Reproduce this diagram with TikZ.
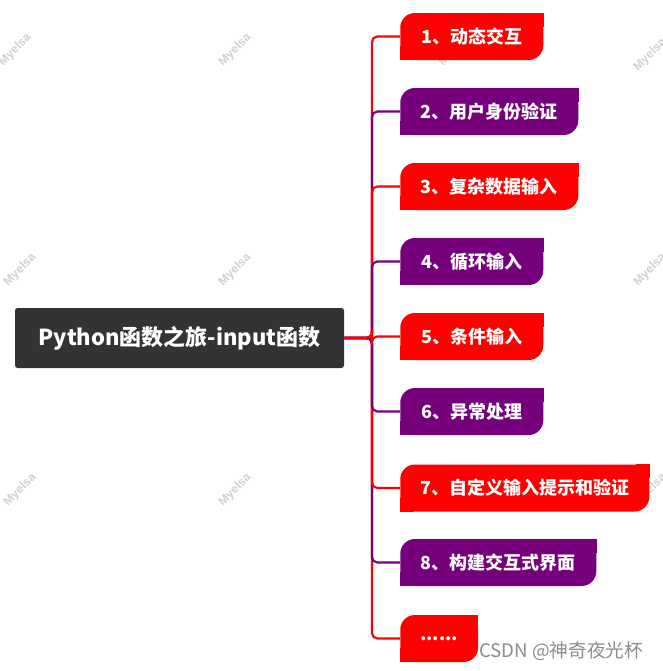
\documentclass[tikz,border=0pt]{standalone}
\usepackage{fontspec}
\setmainfont{Noto Sans CJK SC}
\newfontfamily\wmfont{Liberation Sans}
\def\mysixdots{......}
\begin{document}
\begin{tikzpicture}[x=0.75pt,y=-0.75pt,
  br/.style={fill=#1,rounded corners=11pt,minimum height=35.25pt,anchor=west,inner xsep=15pt,align=left,
    text=white,font=\fontsize{13.5}{15}\selectfont\bfseries},
  ln/.style={draw=#1,line width=1.6pt,rounded corners=4pt},
  wm/.style={text=black!18,rotate=45,font=\wmfont\fontsize{9}{10}\selectfont\bfseries}]
\useasboundingbox (0,0) rectangle (662,671);
\fill[white] (0,0) rectangle (662,671);
\colorlet{rd}{red}
\definecolor{pu}{RGB}{118,0,124}
\foreach \x/\y in {15/50,235/50,455/50,650/55,20/270,235/270,455/265,650/270,20/490,235/490,455/490,650/490}
  \node[wm] at (\x,\y) {Myelsa};
\node[fill=black!80,rounded corners=2pt,minimum width=246.75pt,minimum height=45pt,text=white,
  font=\fontsize{16.5}{18}\selectfont\bfseries] (root) at (179.5,338) {Python函数之旅-input函数};
\coordinate (j) at (372,338);
\foreach \n/\y/\w/\c/\t in {1/36.5/143/rd/1、动态交互, 2/111.5/178/pu/2、用户身份验证, 3/186.5/178/rd/3、复杂数据输入,
  4/261.5/143/pu/4、循环输入, 5/336.5/143/rd/5、条件输入, 6/411.5/143/pu/6、异常处理,
  7/488/249/rd/7、自定义输入提示和验证, 8/562.5/196/pu/8、构建交互式界面, 9/638.5/71/rd/\mysixdots}{
  \node[br=\c,minimum width=\w*0.75pt] (b\n) at (400,\y) {\t};
  \fill[\c] (b\n.north east) rectangle ++(-14,14);
  \fill[\c] (b\n.south west) rectangle ++(14,-14);
}
\foreach \n/\c in {9/rd,8/pu,7/rd,6/pu,1/rd,2/pu,3/rd,4/pu,5/rd}
  \draw[ln=\c] (root.east) -- (j) |- (b\n.west);
\node[text=black!45,font=\fontsize{14}{16}\selectfont,anchor=east] (csdn) at (648,651) {CSDN @神奇夜光杯};
\end{tikzpicture}
\end{document}
